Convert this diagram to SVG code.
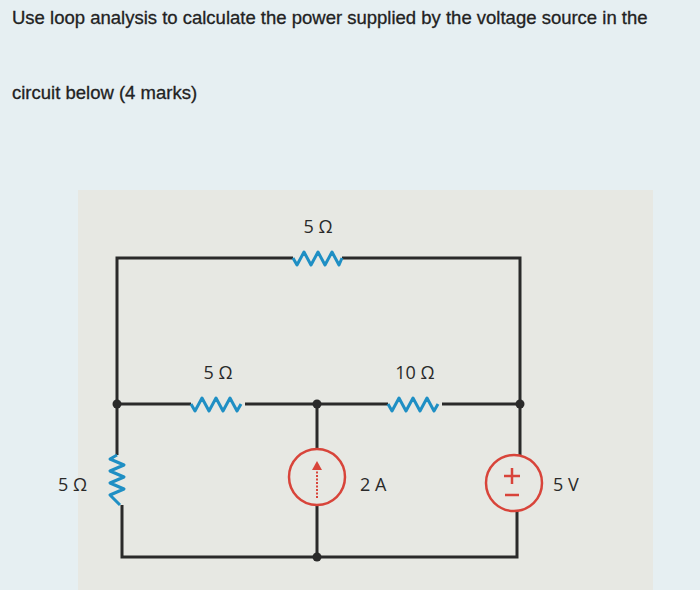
<svg xmlns="http://www.w3.org/2000/svg" width="700" height="590" viewBox="0 0 700 590">
<style>
.w{stroke:#2a2a2a;stroke-width:3;fill:none}
.r{stroke:#1f8fc4;stroke-width:3;fill:none;stroke-linejoin:round}
.s{stroke:#d8443a;stroke-width:2.5;fill:none}
.t{font-family:"Liberation Sans",Arial,sans-serif;font-size:18.5px;fill:#222;stroke:#222;stroke-width:0.3}
.l{font-family:"Open Sans","Liberation Sans",sans-serif;font-size:18px;fill:#2a2a2a}
</style>
<rect width="700" height="590" fill="#e6eff2"/>
<rect x="78" y="190" width="575" height="400" fill="#e7e8e3"/>
<text class="t" x="12" y="24">Use loop analysis to calculate the power supplied by the voltage source in the</text>
<text class="t" x="12" y="99">circuit below (4 marks)</text>
<g id="wires">
<path class="w" d="M293 258H117V404M342 258H520V404M117 404H191M245 404H388M442 404H520M117 404V455M122 505V557H517V511M520 404V455M317 404V449M317 505V557"/>
</g>
<g id="dots" fill="#2a2a2a">
<circle cx="117" cy="404" r="4.5"/><circle cx="317" cy="404" r="4.5"/><circle cx="520" cy="404" r="4.5"/><circle cx="317" cy="557" r="4.5"/>
</g>
<g id="R1"><path class="r" d="M293 258l4 7 7-13 7 13 7-13 7 13 7-13 7 13 3-7"/><text class="l" x="318" y="233" text-anchor="middle">5 Ω</text></g>
<g id="R2"><path class="r" d="M191 404l4 7 7-13 7 13 7-13 7 13 7-13 7 13 4-7"/><text class="l" x="218" y="379" text-anchor="middle">5 Ω</text></g>
<g id="R3"><path class="r" d="M388 404l4 7 7-13 7 13 7-13 7 13 7-13 7 13 4-7"/><text class="l" x="415" y="379" text-anchor="middle">10 Ω</text></g>
<g id="R4"><path class="r" d="M117 455l-7 4 14 6-14 6 14 6-14 6 14 6-14 6 10 10"/><text class="l" x="58" y="491">5 Ω</text></g>
<g id="I1"><circle class="s" cx="317" cy="477" r="28"/><path stroke="#d8443a" stroke-width="2" d="M317 498V466" stroke-dasharray="2 1.5"/><path fill="#d8443a" d="M317 461l-5 9h10z"/><text class="l" x="360" y="491">2 A</text></g>
<g id="V1"><circle class="s" cx="514" cy="483" r="28"/>
<line x1="504" y1="476" x2="520" y2="476" stroke="#d8443a" stroke-width="2.5"/>
<line x1="512" y1="468" x2="512" y2="484" stroke="#d8443a" stroke-width="2.5"/>
<line x1="505" y1="495" x2="519" y2="495" stroke="#d8443a" stroke-width="2.5"/>
<text class="l" x="553" y="491">5  V</text></g>
</svg>
